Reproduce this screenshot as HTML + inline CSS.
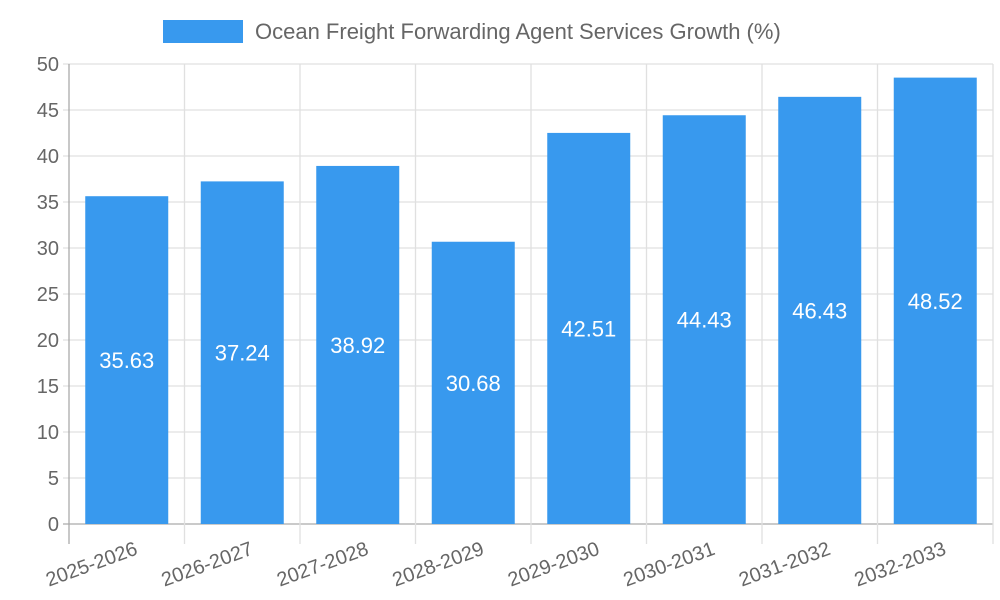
<!DOCTYPE html>
<html><head><meta charset="utf-8"><style>
body{margin:0;background:#fff}
svg{display:block;font-family:"Liberation Sans",sans-serif}
</style></head><body>
<svg id="c" width="1000" height="600"></svg>
<script>
const categories=["2025-2026","2026-2027","2027-2028","2028-2029","2029-2030","2030-2031","2031-2032","2032-2033"];
const values=[35.63,37.24,38.92,30.68,42.51,44.43,46.43,48.52];
const yTicks=[0,5,10,15,20,25,30,35,40,45,50];
const seriesName="Ocean Freight Forwarding Agent Services Growth (%)";
const NS="http://www.w3.org/2000/svg";
const svg=document.getElementById('c');
const L=69,R=993,T=64,B=524,yMax=50;
const y=v=>B-(v/yMax)*(B-T);
const step=(R-L)/categories.length;
const x=i=>L+i*step;
function mk(tag,attrs,parent){const e=document.createElementNS(NS,tag);for(const k in attrs)e.setAttribute(k,attrs[k]);(parent||svg).appendChild(e);return e;}
// legend
const lg=mk('g',{});


mk('rect',{x:163,y:20,width:80,height:23,fill:'#3899ee'},lg);
const lt=mk('text',{x:255,y:39,'font-size':22,fill:'#666'},lg);lt.textContent=seriesName;
// grid
yTicks.forEach(t=>{
  const g=mk('line',{x1:L-6,x2:R,y1:y(t),y2:y(t),stroke:t===0?'#aaa':'#e0e0e0','stroke-width':1.3});
  
  
  const tx=mk('text',{x:L-10,y:y(t)+7,'text-anchor':'end','font-size':20,fill:'#666'});
  
  
  tx.textContent=t;
});
for(let i=0;i<=categories.length;i++){
  const g=mk('line',{x1:x(i),x2:x(i),y1:T,y2:B+20,stroke:i===0?'#aaa':'#e0e0e0','stroke-width':1.3});
  
  
}
// bars
const bw=83;
values.forEach((v,i)=>{
  const cx=x(i)+step/2;
  const r=mk('rect',{x:cx-bw/2,y:y(v),width:bw,height:B-y(v),fill:'#3899ee'});
  
  
  const t=mk('text',{x:cx,y:(y(v)+B)/2+8,'text-anchor':'middle','font-size':22,fill:'#fff'});
  
  
  t.textContent=v.toFixed(2);
  const xl=mk('text',{x:cx+12,y:B+30,'text-anchor':'end','font-size':20,fill:'#666',transform:`rotate(-20 ${cx+12} ${B+30})`});
  
  
  xl.textContent=categories[i];
});
</script>
</body></html>
